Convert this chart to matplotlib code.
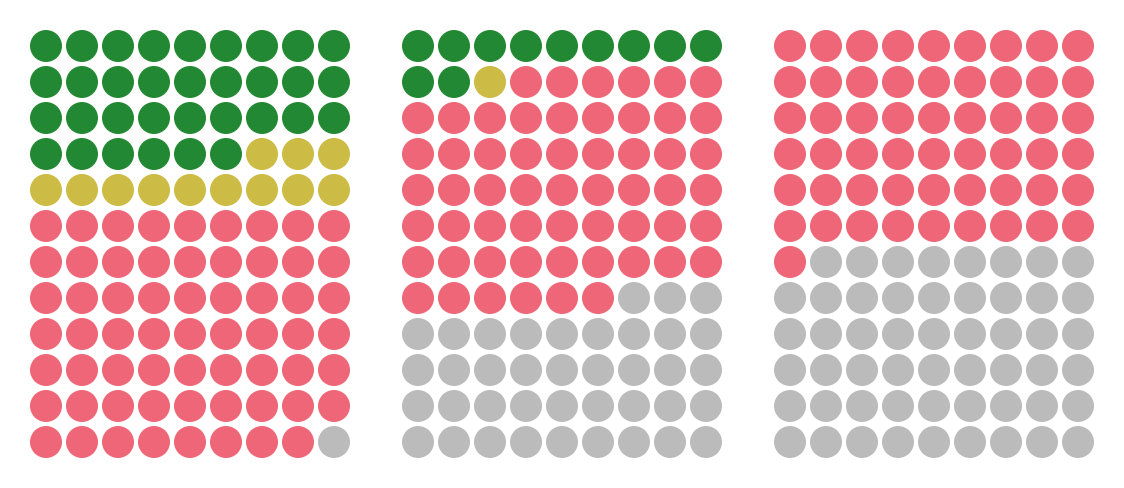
import matplotlib
matplotlib.use("Agg")
import matplotlib.pyplot as plt
from matplotlib.patches import Circle

# counts per panel, in fill order (green, yellow, pink, grey)
categories = ["green", "yellow", "pink", "grey"]
colors = ["#228833", "#CCBB44", "#EE6677", "#BBBBBB"]
panel1 = [33, 12, 62, 1]
panel2 = [11, 1, 57, 39]
panel3 = [0, 0, 55, 53]
panels = [panel1, panel2, panel3]

ncols, nrows = 9, 12
step = 36
radius = 16
x0, y0 = 46, 46
panel_gap = ncols * step + 48

fig = plt.figure(figsize=(11.24, 4.88), dpi=100)
ax = fig.add_axes([0, 0, 1, 1])
ax.set_xlim(0, 1124)
ax.set_ylim(488, 0)
ax.set_aspect("equal")
ax.axis("off")

for p, counts in enumerate(panels):
    seq = []
    for c, n in zip(colors, counts):
        seq += [c] * n
    for i, c in enumerate(seq):
        r, col = divmod(i, ncols)
        cx = x0 + p * panel_gap + col * step
        cy = y0 + r * step
        ax.add_patch(Circle((cx, cy), radius, color=c, lw=0))

fig.savefig("out.png", dpi=100)
